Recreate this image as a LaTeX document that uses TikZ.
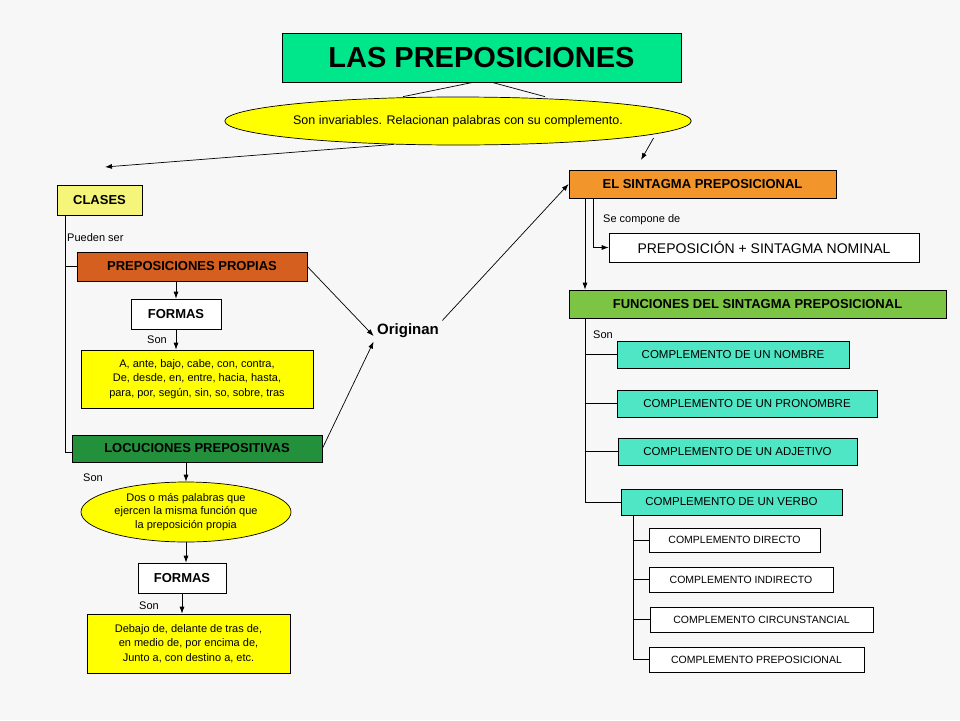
\documentclass[tikz,border=0pt]{standalone}
\usepackage{fontspec}
\setmainfont{Liberation Sans}
\usetikzlibrary{arrows.meta,shapes.geometric}
\definecolor{bg}{HTML}{F7F7F7}
\definecolor{titleg}{HTML}{00E68A}
\definecolor{ylw}{HTML}{FFFF00}
\definecolor{lylw}{HTML}{F5F57A}
\definecolor{brn}{HTML}{D45F1E}
\definecolor{dgrn}{HTML}{23913C}
\definecolor{org}{HTML}{F2962B}
\definecolor{lgrn}{HTML}{7CC443}
\definecolor{turq}{HTML}{4EE6C4}
\tikzset{
 box/.style={draw=black, line width=0.7pt, inner sep=0pt, align=center, drop shadow/.try},
 hb/.style={font=\fontsize{13}{15}\selectfont\bfseries},
 sm/.style={font=\fontsize{11}{13}\selectfont},
 cb/.style={box, fill=turq, font=\fontsize{11.5}{13}\selectfont},
 wb/.style={box, fill=white, font=\fontsize{10.5}{12}\selectfont},
 lbl/.style={font=\fontsize{11}{13}\selectfont, anchor=west, inner sep=0pt},
 arr/.style={-{Latex[length=7pt,width=5pt]}, line width=0.7pt},
 ln/.style={line width=0.7pt}
}
\begin{document}
\begin{tikzpicture}[x=1pt,y=-1pt]
\fill[bg] (0,0) rectangle (960,720);
% title
\node[box, fill=titleg, minimum width=399pt, minimum height=49pt, font=\fontsize{29}{32}\selectfont\bfseries] (title) at (481.5,57.5) {LAS PREPOSICIONES};
\node[draw, ellipse, fill=ylw, line width=0.7pt, minimum width=440pt, minimum height=48pt, inner sep=0pt, font=\fontsize{12.5}{14}\selectfont] (inv) at (458,121) {Son invariables. Relacionan palabras con su complemento.};
\draw[ln] (title.south -| 473,0) -- (inv.north -| 403,0);
\draw[ln] (title.south -| 492,0) -- (inv.north -| 545,0);
% left
\node[box, fill=lylw, minimum width=85pt, minimum height=30pt, hb] (clases) at (99.5,200) {CLASES};
\coordinate (ca) at (105,167);
\draw[arr] (inv.200) -- (ca);
\node[box, fill=brn, minimum width=230pt, minimum height=29pt, hb] (propias) at (192,266.5) {PREPOSICIONES PROPIAS};
\node[box, fill=white, minimum width=90pt, minimum height=30pt, hb] (formas1) at (176,314) {FORMAS};
\node[box, fill=ylw, minimum width=232pt, minimum height=58pt, font=\fontsize{11}{14.5}\selectfont] (lista1) at (197,379) {A, ante, bajo, cabe, con, contra,\\ De, desde, en, entre, hacia, hasta,\\ para, por, según, sin, so, sobre, tras};
\node[box, fill=dgrn, minimum width=250pt, minimum height=27pt, hb] (locu) at (197,448.5) {LOCUCIONES PREPOSITIVAS};
\node[draw, ellipse, fill=ylw, line width=0.7pt, minimum width=210pt, minimum height=60pt, inner sep=0pt, align=center, font=\fontsize{11}{13.5}\selectfont] (dos) at (186,512) {Dos o más palabras que\\ ejercen la misma función que\\ la preposición propia};
\node[box, fill=white, minimum width=88pt, minimum height=30pt, hb] (formas2) at (182,578) {FORMAS};
\node[box, fill=ylw, minimum width=203pt, minimum height=59pt, font=\fontsize{11}{14.5}\selectfont] (lista2) at (188.5,643.5) {Debajo de, delante de tras de,\\ en medio de, por encima de,\\ Junto a, con destino a, etc.};
\coordinate (cl) at (65,452);
\draw[ln] (clases.south -| 65,0) -- (cl);
\draw[ln] (65,266.5) -- (propias.west);
\draw[ln] (cl) -- (72,452);
\node[lbl] (ps) at (67,238) {Pueden ser};
\draw[arr] (propias.south -| formas1) -- (formas1.north);
\draw[arr] (formas1.south) -- (lista1.north -| formas1);
\node[lbl] (son1) at (147,340) {Son};
\draw[arr] (locu.south -| dos) -- (dos.north);
\node[lbl] (son2) at (83,478) {Son};
\draw[arr] (dos.south) -- (formas2.north -| dos);
\draw[arr] (formas2.south) -- (lista2.north -| formas2);
\node[lbl] (son3) at (139,606) {Son};
\node[font=\fontsize{15}{17}\selectfont\bfseries] (orig) at (408,331) {Originan};
\draw[arr] (propias.east) -- (orig.west |- 0,336);
\draw[arr] (locu.east) -- (orig.south west);
% right
\node[box, fill=org, minimum width=267pt, minimum height=28pt, hb] (sint) at (702.5,184) {EL SINTAGMA PREPOSICIONAL};
\draw[arr] (orig.north east) -- (sint.west);
\draw[arr] (inv.east |- 0,138) ++(-38,0) -- (641,160);
\node[box, fill=white, minimum width=310pt, minimum height=29pt, font=\fontsize{14}{16}\selectfont] (comp) at (764,247.5) {PREPOSICIÓN + SINTAGMA NOMINAL};
\draw[arr] (593,198) |- (comp.west);
\node[lbl] (sc) at (603,220) {Se compone de};
\node[box, fill=lgrn, minimum width=377pt, minimum height=28pt, hb] (func) at (757.5,304) {FUNCIONES DEL SINTAGMA PREPOSICIONAL};
\draw[arr] (585,198) -- (func.north -| 585,0);
\node[lbl] (son4) at (593,335) {Son};
\node[cb, minimum width=232pt, minimum height=27pt] (c1) at (733,354.5) {COMPLEMENTO DE UN NOMBRE};
\node[cb, minimum width=260pt, minimum height=27pt] (c2) at (747,403.5) {COMPLEMENTO DE UN PRONOMBRE};
\node[cb, minimum width=239pt, minimum height=27pt] (c3) at (737.5,451.5) {COMPLEMENTO DE UN ADJETIVO};
\node[cb, minimum width=221pt, minimum height=26pt] (c4) at (731.5,502) {COMPLEMENTO DE UN VERBO};
\draw[ln] (func.south -| 585,0) |- (c4.west);
\draw[ln] (585,354.5) -- (c1.west);
\draw[ln] (585,403.5) -- (c2.west);
\draw[ln] (585,451.5) -- (c3.west);
\node[wb, minimum width=171pt, minimum height=24pt] (d1) at (734.5,540) {COMPLEMENTO DIRECTO};
\node[wb, minimum width=184pt, minimum height=25pt] (d2) at (741,579.5) {COMPLEMENTO INDIRECTO};
\node[wb, minimum width=223pt, minimum height=25pt] (d3) at (761.5,619.5) {COMPLEMENTO CIRCUNSTANCIAL};
\node[wb, minimum width=215pt, minimum height=25pt] (d4) at (756.5,659.5) {COMPLEMENTO PREPOSICIONAL};
\draw[ln] (c4.south -| 633,0) |- (d4.west);
\draw[ln] (633,540) -- (d1.west);
\draw[ln] (633,579.5) -- (d2.west);
\draw[ln] (633,619.5) -- (d3.west);
\end{tikzpicture}
\end{document}
